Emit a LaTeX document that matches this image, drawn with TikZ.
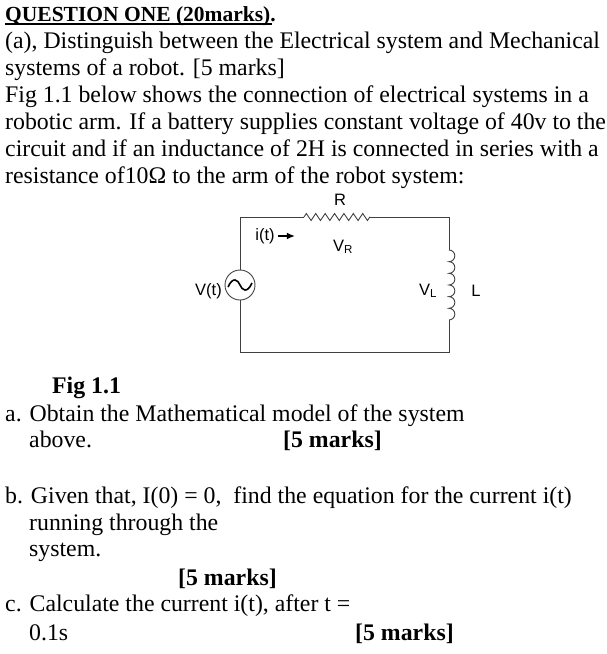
\documentclass[tikz,border=0pt]{standalone}
\usepackage{fontspec}
\setmainfont{Liberation Serif}
\newfontfamily\sansf{Liberation Sans}
\usetikzlibrary{decorations.pathmorphing,arrows.meta,calc}
\begin{document}
\begin{tikzpicture}[x=1pt,y=-1pt,
  txt/.style={anchor=base west,inner sep=0pt,font=\fontsize{23.8}{27}\selectfont},
  btxt/.style={txt,font=\bfseries\fontsize{23.8}{27}\selectfont},
  lbl/.style={inner sep=0pt,font=\sansf\fontsize{16.5}{18}\selectfont},
  wire/.style={line width=0.9pt,black!75}]
\useasboundingbox (0,0) rectangle (607,654);
\node[txt,font=\bfseries\fontsize{21.5}{27}\selectfont] (t1) at (5,21) {QUESTION ONE (20marks).};
\draw[line width=1.2pt] ($(t1.base west)+(0,3)$) -- ($(t1.base east)+(-4,3)$);
\node[txt] (t2) at (5,48) {(a), Distinguish between the Electrical system and Mechanical};
\node[txt] (t3) at (5,75) {systems of a robot. [5 marks]};
\node[txt] (t4) at (5,102) {Fig 1.1 below shows the connection of electrical systems in a};
\node[txt] (t5) at (5,129) {robotic arm. If a battery supplies constant voltage of 40v to the};
\node[txt] (t6) at (5,156) {circuit and if an inductance of 2H is connected in series with a};
\node[txt] (t7) at (5,183) {resistance of10Ω to the arm of the robot system:};
% circuit
\coordinate (tl) at (240,217); \coordinate (tr) at (449,217);
\coordinate (bl) at (240,352); \coordinate (br) at (449,352);
\coordinate (r1) at (304,217); \coordinate (r2) at (370,217);
\coordinate (l1) at (449,250); \coordinate (l2) at (449,320);
\node[draw,circle,wire,minimum size=30pt,inner sep=0pt] (src) at (240,285) {};
\draw[line width=1.6pt] (228,287) .. controls (233,276) and (238,280) .. (240,285) .. controls (242,290) and (247,294) .. (252,283);
\draw[wire] (src.north) -- (tl) -- (r1);
\draw[wire,decorate,decoration={zigzag,segment length=9.4pt,amplitude=3.5pt}] (r1) -- (r2);
\draw[wire] (r2) -- (tr) -- (l1);
\draw[wire] (l1) arc[start angle=-90,end angle=90,radius=5.83]
  arc[start angle=-90,end angle=90,radius=5.83]
  arc[start angle=-90,end angle=90,radius=5.83]
  arc[start angle=-90,end angle=90,radius=5.83]
  arc[start angle=-90,end angle=90,radius=5.83]
  arc[start angle=-90,end angle=90,radius=5.83];
\draw[wire] (l2) -- (br) -- (bl) -- (src.south);
\node[lbl] (R) at (340,200) {R};
\node[lbl] (vr) at (343,247) {V\textsubscript{R}};
\node[lbl] (it) at (265,236) {i(t)};
\draw[-{Latex[length=8pt,width=7pt]},line width=1.3pt] (it.east) ++(3,0) -- ++(17,0) coordinate (ie);
\node[lbl,anchor=east] (vt) at (222,291) {V(t)};
\node[lbl] (vl) at (428,291) {V\textsubscript{L}};
\node[lbl] (L) at (476,291) {L};
\node[btxt] (fig) at (52,393) {Fig 1.1};
\node[txt] (a1) at (5,421) {a. Obtain the Mathematical model of the system};
\node[txt] (a2) at (29,447) {above.};
\node[btxt] (a3) at (283,447) {[5 marks]};
\node[txt] (b1) at (5,503) {b. Given that, I(0) = 0,\ \ find the equation for the current i(t)};
\node[txt] (b2) at (29,530) {running through the};
\node[txt] (b3) at (29,556) {system.};
\node[btxt] (b4) at (178,585) {[5 marks]};
\node[txt] (c1) at (5,611) {c. Calculate the current i(t), after t =};
\node[txt] (c2) at (29,640) {0.1s};
\node[btxt] (c3) at (355,640) {[5 marks]};
\end{tikzpicture}
\end{document}
